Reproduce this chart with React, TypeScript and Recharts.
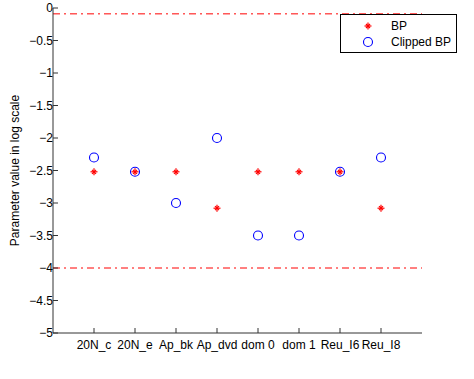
import { ReferenceLine, Scatter, ScatterChart, XAxis, YAxis } from "recharts";

const categories = ["20N_c", "20N_e", "Ap_bk", "Ap_dvd", "dom 0", "dom 1", "Reu_I6", "Reu_I8"];
const bpValues = [-2.52, -2.52, -2.52, -3.08, -2.52, -2.52, -2.52, -3.08];
const clippedValues = [-2.3, -2.52, -3.0, -2.0, -3.5, -3.5, -2.52, -2.3];
const yTicks = [0, -0.5, -1, -1.5, -2, -2.5, -3, -3.5, -4, -4.5, -5];
const upperBound = -0.09;
const lowerBound = -4;

const bpData = categories.map((name, i) => ({ x: i + 1, y: bpValues[i], name }));
const clippedData = categories.map((name, i) => ({ x: i + 1, y: clippedValues[i], name }));

const FONT = "'Liberation Sans', Arial, Helvetica, sans-serif";
const RED = "#ff0000";
const BLUE = "#0000ff";

const fmt = (v: number) => (v < 0 ? "\u2212" + String(-v) : String(v));

function Star({ cx, cy }: any) {
  return (
    <g stroke={RED} strokeWidth={1.2}>
      <line x1={cx - 3.5} y1={cy} x2={cx + 3.5} y2={cy} />
      <line x1={cx} y1={cy - 3.5} x2={cx} y2={cy + 3.5} />
      <line x1={cx - 2} y1={cy - 2} x2={cx + 2} y2={cy + 2} />
      <line x1={cx - 2} y1={cy + 2} x2={cx + 2} y2={cy - 2} />
    </g>
  );
}

function Ring({ cx, cy }: any) {
  return <circle cx={cx} cy={cy} r={4.5} fill="none" stroke={BLUE} strokeWidth={1.1} />;
}

function YTick({ x, y, payload }: any) {
  return (
    <g>
      <line x1={x + 1} y1={y} x2={x + 6} y2={y} stroke="#333" />
      <text x={x + 1} y={y} dy={4} textAnchor="end" fontSize={12} fontFamily={FONT} fill="#000">
        {fmt(payload.value)}
      </text>
    </g>
  );
}

function XTick({ x, y, payload }: any) {
  return (
    <g>
      <line x1={x} y1={y} x2={x} y2={y - 5} stroke="#333" />
      <text x={x} y={y + 16} textAnchor="middle" fontSize={12} fontFamily={FONT} fill="#000">
        {categories[payload.value - 1]}
      </text>
    </g>
  );
}

function LegendBox() {
  return (
    <div
      style={{
        position: "absolute",
        left: 340,
        top: 14,
        width: 115,
        height: 37,
        border: "1px solid #000",
        background: "#fff",
      }}
    >
      <svg width={115} height={37} style={{ position: "absolute", left: 0, top: 0 }}>
        <Star cx={27} cy={11} />
        <Ring cx={27} cy={27} />
        <text x={50} y={15} fontSize={12} fontFamily={FONT} fill="#000">BP</text>
        <text x={50} y={31} fontSize={12} fontFamily={FONT} fill="#000">Clipped BP</text>
      </svg>
    </div>
  );
}

export default function App() {
  return (
    <div style={{ position: "absolute", left: 0, top: 0, width: 474, height: 379, background: "#fff" }}>
      <ScatterChart width={474} height={379} margin={{ top: 8, right: 52, bottom: 0, left: 0 }}>
        <XAxis
          type="number"
          dataKey="x"
          domain={[0, 9]}
          ticks={[1, 2, 3, 4, 5, 6, 7, 8]}
          height={46}
          tickSize={0}
          tickMargin={0}
          tickLine={false}
          tick={<XTick />}
          axisLine={{ stroke: "#333" }}
          allowDataOverflow
        />
        <YAxis
          type="number"
          dataKey="y"
          domain={[-5, 0]}
          ticks={yTicks}
          width={53}
          tickSize={0}
          tickMargin={1}
          tickLine={false}
          tick={<YTick />}
          axisLine={{ stroke: "#333" }}
          interval={0}
          label={{
            value: "Parameter value in log scale",
            angle: -90,
            position: "center",
            dx: -12,
            fontSize: 12,
            fontFamily: FONT,
            fill: "#000",
          }}
        />
        <ReferenceLine y={upperBound} stroke={RED} strokeDasharray="7 4 2 4" strokeWidth={1} />
        <ReferenceLine y={lowerBound} stroke={RED} strokeDasharray="7 4 2 4" strokeWidth={1} />
        <Scatter name="Clipped BP" data={clippedData} shape={<Ring />} isAnimationActive={false} />
        <Scatter name="BP" data={bpData} shape={<Star />} isAnimationActive={false} />
      </ScatterChart>
      <LegendBox />
    </div>
  );
}
